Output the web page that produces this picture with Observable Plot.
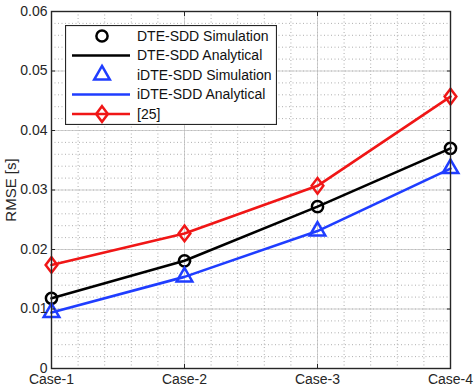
<!DOCTYPE html>
<html>
<head>
<meta charset="utf-8">
<script src="https://cdn.jsdelivr.net/npm/d3@7"></script>
<script src="https://cdn.jsdelivr.net/npm/@observablehq/plot@0.6"></script>
<style>
  html, body { margin: 0; padding: 0; background: #fff; }
  #wrap { position: relative; width: 474px; height: 387px; font-family: "Liberation Sans", Arial, Helvetica, sans-serif; }
  #legend { position: absolute; left: 65px; top: 25px; }
</style>
</head>
<body>
<div id="wrap"></div>
<script>
// ---- data ----
const cases = ["Case-1", "Case-2", "Case-3", "Case-4"];
const caseIndex = [1, 2, 3, 4];
const dteSdd = [0.0118, 0.0181, 0.0272, 0.0370];   // DTE-SDD (simulation & analytical)
const idteSdd = [0.0094, 0.0154, 0.0231, 0.0336];  // iDTE-SDD (simulation & analytical)
const ref25 = [0.0174, 0.0227, 0.0307, 0.0457];    // [25]
const yTicks = [0, 0.01, 0.02, 0.03, 0.04, 0.05, 0.06];
const yTickLabels = ["0", "0.01", "0.02", "0.03", "0.04", "0.05", "0.06"];
const legendLabels = ["DTE-SDD Simulation", "DTE-SDD Analytical", "iDTE-SDD Simulation", "iDTE-SDD Analytical", "[25]"];

// minor grid positions (5 subdivisions per major step)
const xMinor = d3.range(0, 16).map(i => 1 + i / 5);
const yMinor = d3.range(0, 31).map(i => i * 0.002);

const rows = (vals, series) => vals.map((v, i) => ({x: caseIndex[i], y: v, series}));
const dteRows = rows(dteSdd, "dte");
const idteRows = rows(idteSdd, "idte");
const refRows = rows(ref25, "ref");

const BLUE = "#1f3dff", RED = "#f01616", AX = "#262626";
const FONT = "'Liberation Sans', Arial, Helvetica, sans-serif";

// custom diamond (MATLAB-like proportions)
const diamond = {
  draw(ctx, size) {
    const h = Math.sqrt(size / 1.5);
    const w = h * 0.75;
    ctx.moveTo(0, -h); ctx.lineTo(w, 0); ctx.lineTo(0, h); ctx.lineTo(-w, 0); ctx.closePath();
  }
};

const chart = Plot.plot({
  width: 474,
  height: 387,
  marginLeft: 51,
  marginRight: 24,
  marginTop: 11,
  marginBottom: 19,
  style: {fontFamily: FONT, fontSize: "14px", background: "#fff", color: "#262626", overflow: "visible"},
  x: {domain: [1, 4]},
  y: {domain: [0, 0.06]},
  marks: [
    Plot.gridX(xMinor, {stroke: "#7a7a7a", strokeOpacity: 0.6, strokeDasharray: "1,2.5"}),
    Plot.gridY(yMinor, {stroke: "#7a7a7a", strokeOpacity: 0.6, strokeDasharray: "1,2.5"}),
    Plot.gridX(caseIndex, {stroke: "#bdbdbd", strokeOpacity: 0.7}),
    Plot.gridY(yTicks, {stroke: "#bdbdbd", strokeOpacity: 0.7}),
    Plot.line(dteRows, {x: "x", y: "y", stroke: "#000", strokeWidth: 2.6}),
    Plot.line(idteRows, {x: "x", y: "y", stroke: BLUE, strokeWidth: 2.6}),
    Plot.line(refRows, {x: "x", y: "y", stroke: RED, strokeWidth: 2.6}),
    Plot.dot(dteRows, {x: "x", y: "y", r: 5.6, stroke: "#000", strokeWidth: 2.5, fill: "none"}),
    Plot.dot(idteRows, {x: "x", y: "y", r: 5.8, symbol: "triangle", stroke: BLUE, strokeWidth: 2.5, fill: "none"}),
    Plot.dot(refRows, {x: "x", y: "y", r: 5.4, symbol: diamond, stroke: RED, strokeWidth: 2.5, fill: "none"}),
    Plot.frame({stroke: AX, strokeWidth: 1.4}),
    Plot.axisX(caseIndex, {anchor: "bottom", tickSize: -4, tickPadding: 10, fontSize: 14, tickFormat: d => cases[d - 1], stroke: AX, fill: "#262626", label: null}),
    Plot.axisX(caseIndex, {anchor: "top", tickSize: -4, tickFormat: () => "", stroke: AX, label: null}),
    Plot.axisY(yTicks, {anchor: "left", tickSize: -4, tickPadding: 8, fontSize: 14, tickFormat: d => yTickLabels[yTicks.indexOf(d)], stroke: AX, fill: "#262626", label: null}),
    Plot.axisY({anchor: "left", ticks: [], label: "RMSE [s]", labelAnchor: "center", labelArrow: "none", labelOffset: 46, fontSize: 15, fill: "#262626"}),
    Plot.axisY(yTicks, {anchor: "right", tickSize: -4, tickFormat: () => "", stroke: AX, label: null})
  ]
});
document.getElementById("wrap").appendChild(chart);

// ---- legend (HTML overlay with SVG swatches) ----
const lw = 212, lh = 100, rowH = 19.5, top0 = 11;
const leg = d3.select("#wrap").append("svg").attr("id", "legend").attr("width", lw).attr("height", lh);
leg.append("rect").attr("x", 0.5).attr("y", 0.5).attr("width", lw - 1).attr("height", lh - 1)
  .attr("fill", "#fff").attr("stroke", AX).attr("stroke-width", 1.2);
const specs = [
  {line: null, marker: "circle", color: "#000"},
  {line: "#000", marker: null, color: "#000"},
  {line: null, marker: "triangle", color: BLUE},
  {line: BLUE, marker: null, color: BLUE},
  {line: RED, marker: "diamond", color: RED}
];
specs.forEach((s, i) => {
  const cy = top0 + i * rowH;
  const g = leg.append("g");
  if (s.line) g.append("line").attr("x1", 7).attr("x2", 65).attr("y1", cy).attr("y2", cy)
    .attr("stroke", s.line).attr("stroke-width", 2.6);
  if (s.marker) {
    const sym = s.marker === "circle" ? d3.symbolCircle : s.marker === "triangle" ? d3.symbolTriangle : diamond;
    const r = s.marker === "circle" ? 5.6 : s.marker === "triangle" ? 5.8 : 5.4;
    g.append("path").attr("d", d3.symbol(sym, Math.PI * r * r)()).attr("transform", `translate(37,${cy})`)
      .attr("fill", "none").attr("stroke", s.color).attr("stroke-width", 2.5);
  }
  g.append("text").attr("x", 72).attr("y", cy).attr("dy", "0.35em")
    .attr("font-family", FONT).attr("font-size", 14)
    .attr("fill", "#111").text(legendLabels[i]);
});
</script>
</body>
</html>
